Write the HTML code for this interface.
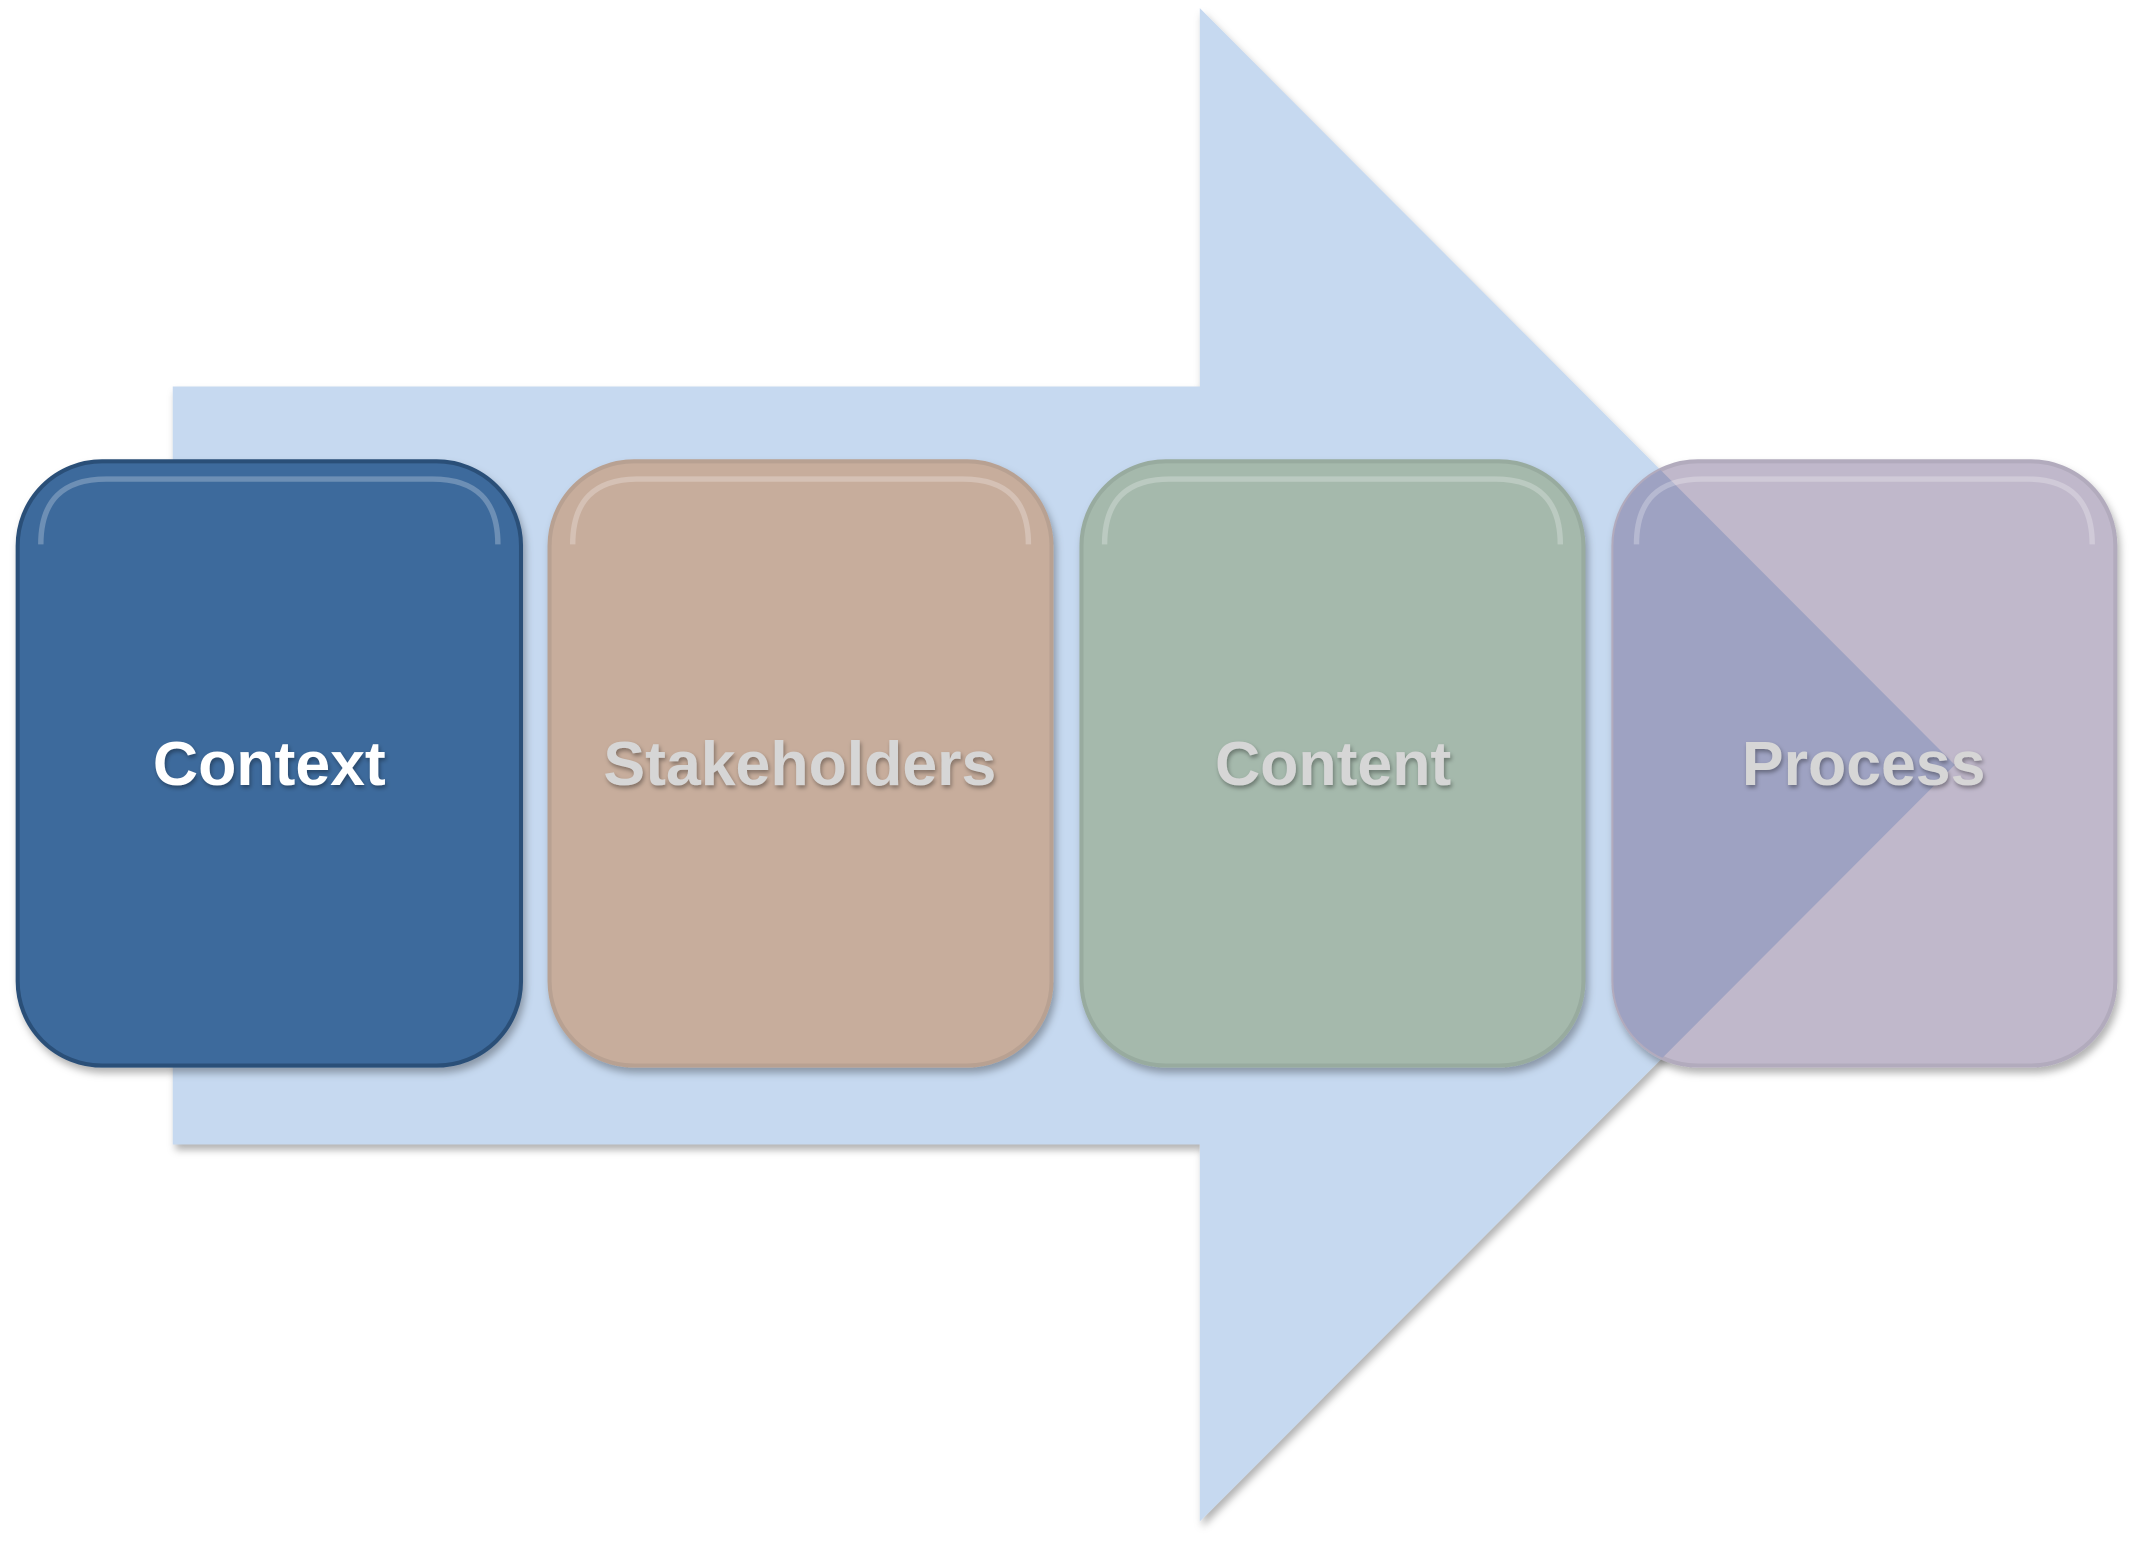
<!DOCTYPE html>
<html><head><meta charset="utf-8"><style>
html,body{margin:0;padding:0;background:#fff;}
svg{display:block;}
text{font-family:"Liberation Sans",sans-serif;font-weight:bold;font-size:46px;}
</style></head><body>
<svg width="2133" height="1546" viewBox="0 0 1568 1136" preserveAspectRatio="none" xmlns="http://www.w3.org/2000/svg">
<defs>
<filter id="sh" x="-10%" y="-10%" width="120%" height="120%"><feDropShadow dx="2" dy="4" stdDeviation="3" flood-color="#000" flood-opacity="0.3"/></filter>
<filter id="ts"><feDropShadow dx="1" dy="2" stdDeviation="1.5" flood-color="#000" flood-opacity="0.35"/></filter>
<clipPath id="pc"><rect x="1186" y="339" width="369" height="444" rx="62"/></clipPath>
</defs>
<polygon points="127,284 882,284 882,6 1437,562 882,1118 882,841 127,841" fill="#c6d9f0" filter="url(#sh)"/>
<rect x="13" y="339" width="370" height="444" rx="62" fill="#3d6a9c" stroke="#2b4f78" stroke-width="3" filter="url(#sh)"/>
<rect x="404" y="339" width="369" height="444" rx="62" fill="#c7ad9c" stroke="#b8a192" stroke-width="3" filter="url(#sh)"/>
<rect x="795" y="339" width="369" height="444" rx="62" fill="#a5b9ac" stroke="#98ab9f" stroke-width="3" filter="url(#sh)"/>
<rect x="1186" y="339" width="369" height="444" rx="62" fill="#c0b8cb" stroke="#b2abbd" stroke-width="3" filter="url(#sh)"/>
<polygon points="127,284 882,284 882,6 1437,562 882,1118 882,841 127,841" fill="#9ea2c2" clip-path="url(#pc)"/>
<g fill="none" stroke="#fff" stroke-opacity="0.25" stroke-width="4">
<path d="M30,400 Q30,352 78,352 L318,352 Q366,352 366,400"/>
<path d="M421,400 Q421,352 469,352 L708,352 Q756,352 756,400"/>
<path d="M812,400 Q812,352 860,352 L1099,352 Q1147,352 1147,400"/>
<path d="M1203,400 Q1203,352 1251,352 L1490,352 Q1538,352 1538,400"/>
</g>
<text x="198" y="577" text-anchor="middle" fill="#fff" filter="url(#ts)">Context</text>
<text x="588" y="577" text-anchor="middle" fill="#d6d6d6" filter="url(#ts)">Stakeholders</text>
<text x="980" y="577" text-anchor="middle" fill="#d6d6d6" filter="url(#ts)">Content</text>
<text x="1370" y="577" text-anchor="middle" fill="#d6d6d6" filter="url(#ts)">Process</text>
</svg>
</body></html>
